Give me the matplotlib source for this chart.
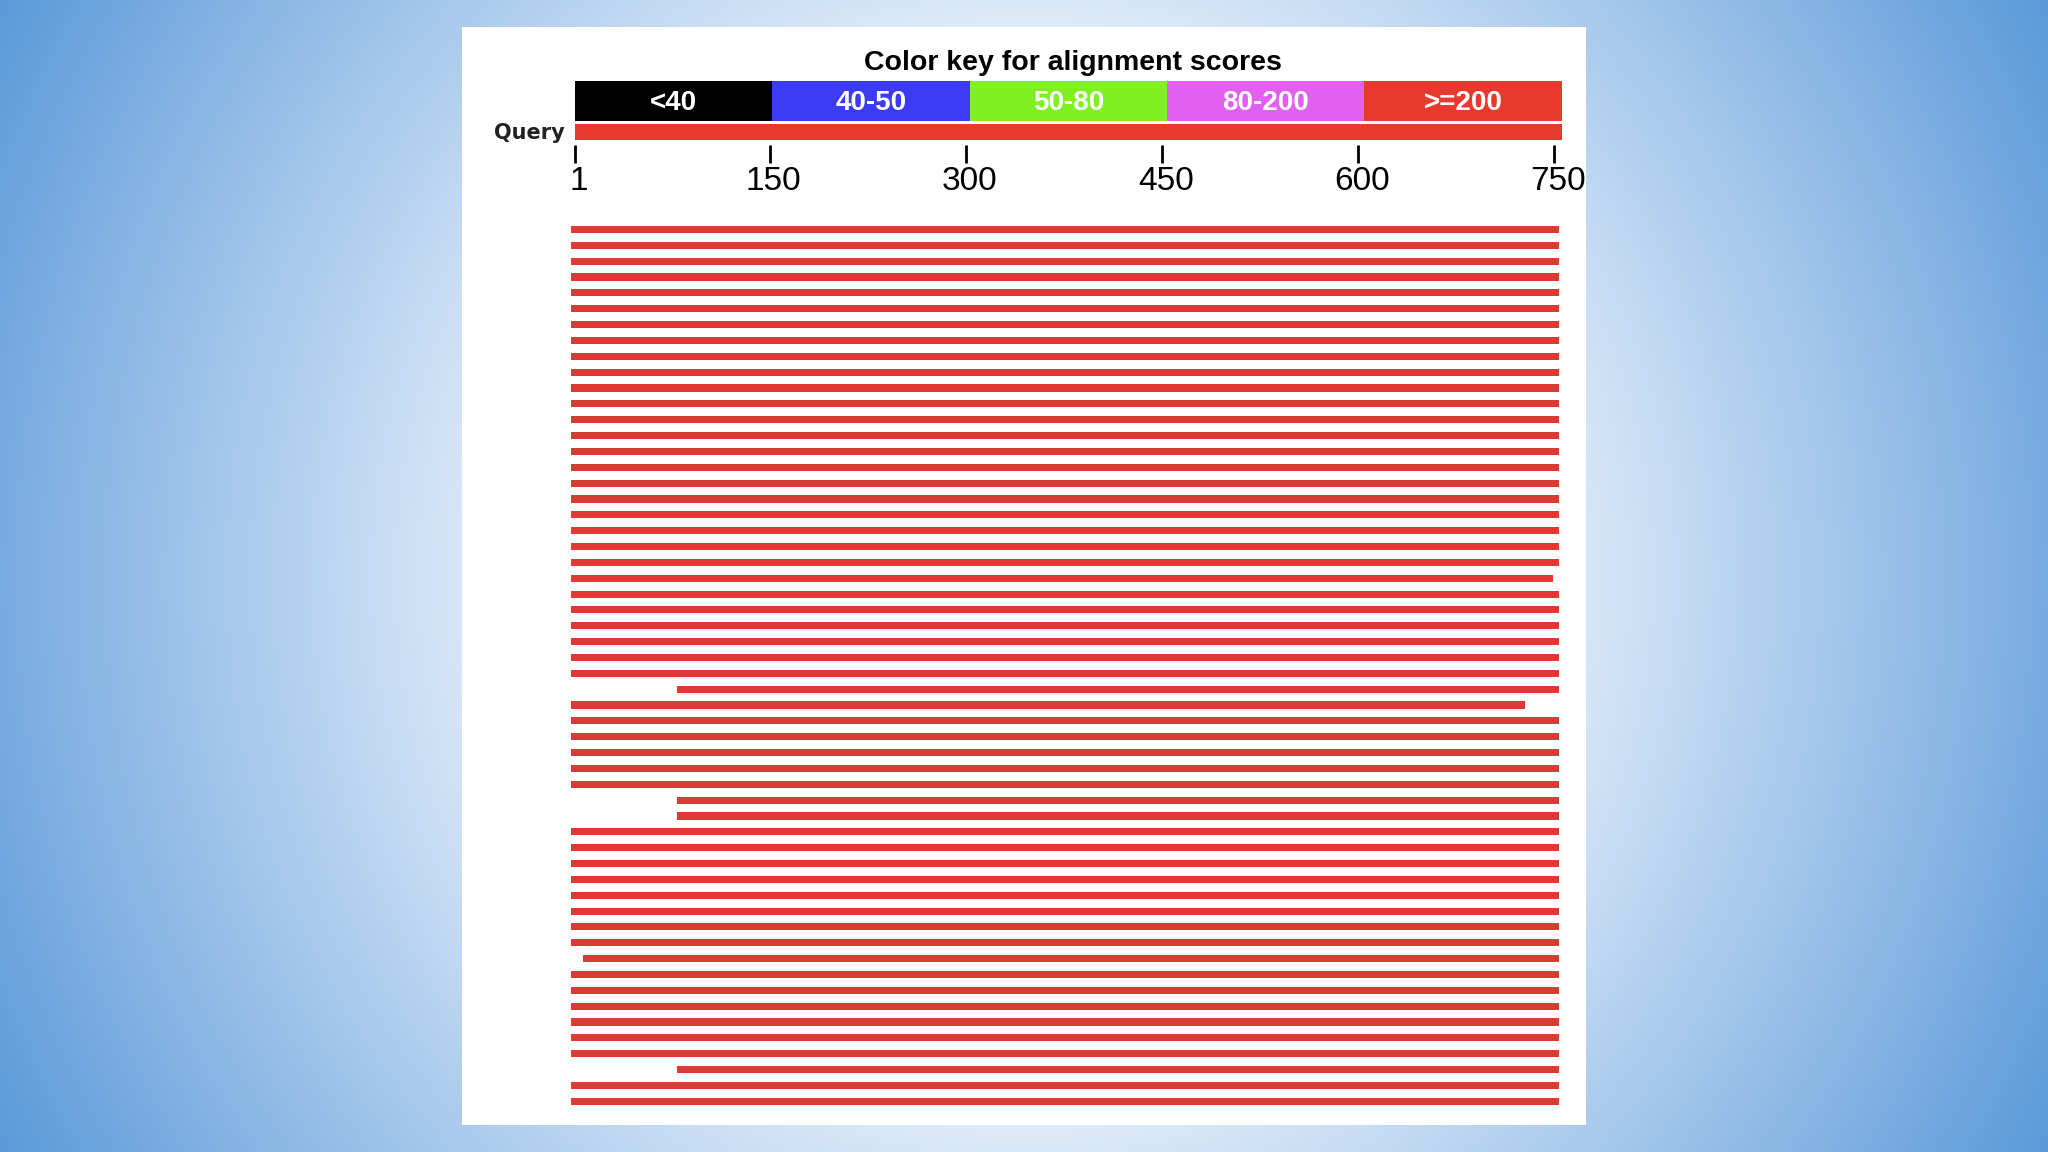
import matplotlib.pyplot as plt
import numpy as np

plt.rcParams['font.family'] = ['Liberation Sans', 'DejaVu Sans']

# colour key
key_labels = ['<40', '40-50', '50-80', '80-200', '>=200']
key_colors = ['#000000', '#3b3bf2', '#7ff021', '#e160ef', '#e8392f']

query_length = 755
tick_values = [1, 150, 300, 450, 600, 750]

# one entry per hit row, top to bottom (query coordinates)
hit_starts = [-2, -2, -2, -2, -2, -2, -2, -2, -2, -2,
              -2, -2, -2, -2, -2, -2, -2, -2, -2, -2,
              -2, -2, -2, -2, -2, -2, -2, -2, -2, 79,
              -2, -2, -2, -2, -2, -2, 79, 79, -2, -2,
              -2, -2, -2, -2, -2, -2, 7, -2, -2, -2,
              -2, -2, -2, 79, -2, -2]
hit_ends = [754, 754, 754, 754, 754, 754, 754, 754, 754, 754,
            754, 754, 754, 754, 754, 754, 754, 754, 754, 754,
            754, 754, 749, 754, 754, 754, 754, 754, 754, 754,
            728, 754, 754, 754, 754, 754, 754, 754, 754, 754,
            754, 754, 754, 754, 754, 754, 754, 754, 754, 754,
            754, 754, 754, 754, 754, 754]

hit_color = '#dc3a33'

fig = plt.figure(figsize=(20.48, 11.52), dpi=100)

# blue radial backdrop
bg = fig.add_axes([0, 0, 1, 1])
gx, gy = np.meshgrid(np.linspace(-1, 1, 512), np.linspace(-1, 1, 288))
r = np.sqrt(gx ** 2 + 0.3 * gy ** 2)
t = np.clip((r - 0.5) / 0.55, 0, 1.25)[..., None]
light = np.array([226, 237, 250]) / 255
dark = np.array([110, 165, 222]) / 255
bg.imshow(light + (dark - light) * t, extent=(0, 1, 0, 1), aspect='auto')
bg.set_xlim(0, 1)
bg.set_ylim(0, 1)
bg.axis('off')

# white panel holding the BLAST graphic
ax = fig.add_axes([0.2258, 0.0238, 0.5484, 0.9524])
ax.set_facecolor('white')
for s in ax.spines.values():
    s.set_visible(False)
ax.set_xticks([])
ax.set_yticks([])
ax.set_xlim(-84.9, 774.2)
ax.set_ylim(56.47, -12.75)

n_keys = len(key_labels)
edges = np.linspace(1, query_length + 1, n_keys + 1)
widths = np.diff(edges)
ax.barh(-8.11, widths, left=edges[:-1], height=2.52, color=key_colors,
        align='center')
for x0, w, lab in zip(edges[:-1], widths, key_labels):
    ax.text(x0 + w / 2, -8.0, lab, color='white', fontsize=20,
            fontweight='bold', ha='center', va='center')

ax.text((1 + query_length) / 2 + 4, -10.52, 'Color key for alignment scores',
        fontsize=20.5, fontweight='bold', ha='center', va='center')

# query bar
ax.barh(-6.16, query_length, left=1, height=1.0, color='#e8392f')
ax.text(-7, -6.1, 'Query', fontsize=15, fontweight='bold', ha='right',
        va='center', color='#222222', family='DejaVu Sans')

# ruler
ax.vlines(tick_values, -5.33, -4.19, color='black', lw=2)
for v in tick_values:
    ax.text(v + 3, -3.0, str(v), fontsize=24, ha='center', va='center')

# hits
rows = np.arange(len(hit_starts))
ax.barh(rows, np.array(hit_ends) - np.array(hit_starts),
        left=hit_starts, height=0.45, color=hit_color)

fig.savefig('out.png', dpi=100)
